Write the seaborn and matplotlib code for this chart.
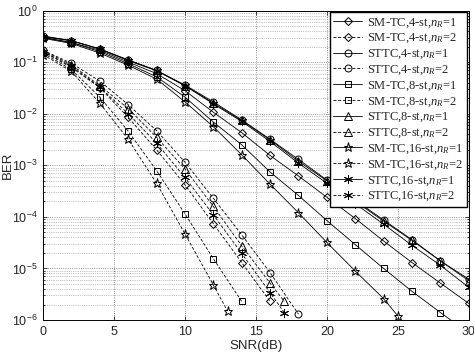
import numpy as np
import pandas as pd
import matplotlib
matplotlib.use("Agg")
import matplotlib.pyplot as plt
import seaborn as sns

# SNR points (dB) and BER, one list per curve
snr_full = [0, 2, 4, 6, 8, 10, 12, 14, 16, 18, 20, 22, 24, 26, 28, 30]

smtc4_nr1 = [3.0e-1, 2.4e-1, 1.7e-1, 1.0e-1, 6.0e-2, 2.8e-2, 1.07e-2, 4.3e-3,
             1.55e-3, 6.2e-4, 2.4e-4, 9.3e-5, 3.4e-5, 1.3e-5, 5.2e-6, 2.1e-6]
sttc4_nr1 = [3.2e-1, 2.6e-1, 1.8e-1, 1.1e-1, 6.9e-2, 3.6e-2, 1.7e-2, 7.6e-3,
             3.2e-3, 1.3e-3, 5.2e-4, 2.1e-4, 8.7e-5, 3.6e-5, 1.4e-5, 6.2e-6]
smtc8_nr1 = [3.0e-1, 2.4e-1, 1.6e-1, 9.3e-2, 5.2e-2, 2.1e-2, 6.9e-3, 2.5e-3,
             7.4e-4, 2.6e-4, 8.5e-5, 2.9e-5, 1.0e-5, 3.6e-6, 1.4e-6, 5.6e-7]
sttc8_nr1 = [3.2e-1, 2.6e-1, 1.8e-1, 1.1e-1, 6.9e-2, 3.5e-2, 1.6e-2, 7.4e-3,
             3.1e-3, 1.2e-3, 5.0e-4, 2.0e-4, 8.3e-5, 3.5e-5, 1.4e-5, 5.8e-6]
snr_smtc16_nr1 = [0, 2, 4, 6, 8, 10, 12, 14, 16, 18, 20, 22, 24, 25]
smtc16_nr1 = [2.9e-1, 2.3e-1, 1.5e-1, 8.7e-2, 4.7e-2, 1.7e-2, 5.6e-3, 1.6e-3,
              4.3e-4, 1.2e-4, 3.2e-5, 8.9e-6, 2.6e-6, 1.2e-6]
sttc16_nr1 = [3.1e-1, 2.6e-1, 1.8e-1, 1.07e-1, 6.8e-2, 3.5e-2, 1.55e-2, 7.1e-3,
              2.9e-3, 1.1e-3, 4.5e-4, 1.8e-4, 7.2e-5, 2.8e-5, 1.15e-5, 4.3e-6]

snr_smtc4_nr2 = [0, 2, 4, 6, 8, 10, 12, 14, 16]
smtc4_nr2 = [1.6e-1, 7.9e-2, 3.2e-2, 8.5e-3, 2.0e-3, 4.2e-4, 7.4e-5, 1.3e-5, 2.3e-6]
snr_sttc4_nr2 = [0, 2, 4, 6, 8, 10, 12, 14, 16, 18]
sttc4_nr2 = [1.7e-1, 9.5e-2, 4.3e-2, 1.5e-2, 4.7e-3, 1.15e-3, 2.3e-4, 4.5e-5, 8.3e-6, 1.3e-6]
snr_smtc8_nr2 = [0, 2, 4, 6, 8, 10, 12, 14]
smtc8_nr2 = [1.5e-1, 7.2e-2, 2.1e-2, 4.6e-3, 7.9e-4, 1.15e-4, 1.55e-5, 2.3e-6]
snr_sttc8_nr2 = [0, 2, 4, 6, 8, 10, 12, 14, 16, 17]
sttc8_nr2 = [1.66e-1, 8.9e-2, 3.5e-2, 1.26e-2, 3.5e-3, 8.5e-4, 1.6e-4, 2.75e-5, 5.2e-6, 2.3e-6]
snr_smtc16_nr2 = [0, 2, 4, 6, 8, 10, 12, 13]
smtc16_nr2 = [1.4e-1, 6.6e-2, 1.6e-2, 3.2e-3, 4.5e-4, 4.7e-5, 4.8e-6, 1.5e-6]
snr_sttc16_nr2 = [0, 2, 4, 6, 8, 10, 12, 14, 16, 17]
sttc16_nr2 = [1.6e-1, 8.3e-2, 3.3e-2, 1.0e-2, 2.7e-3, 5.8e-4, 1.1e-4, 1.95e-5, 3.4e-6, 1.4e-6]

labels = [r"SM-TC,4-st,$n_R$=1", r"SM-TC,4-st,$n_R$=2",
          r"STTC,4-st,$n_R$=1", r"STTC,4-st,$n_R$=2",
          r"SM-TC,8-st,$n_R$=1", r"SM-TC,8-st,$n_R$=2",
          r"STTC,8-st,$n_R$=1", r"STTC,8-st,$n_R$=2",
          r"SM-TC,16-st,$n_R$=1", r"SM-TC,16-st,$n_R$=2",
          r"STTC,16-st,$n_R$=1", r"STTC,16-st,$n_R$=2"]

curves = [
    (snr_full, smtc4_nr1), (snr_smtc4_nr2, smtc4_nr2),
    (snr_full, sttc4_nr1), (snr_sttc4_nr2, sttc4_nr2),
    (snr_full, smtc8_nr1), (snr_smtc8_nr2, smtc8_nr2),
    (snr_full, sttc8_nr1), (snr_sttc8_nr2, sttc8_nr2),
    (snr_smtc16_nr1, smtc16_nr1), (snr_smtc16_nr2, smtc16_nr2),
    (snr_full, sttc16_nr1), (snr_sttc16_nr2, sttc16_nr2),
]

markers = ["D", "D", "o", "o", "s", "s", "^", "^", "*", "*", (6, 2, 0), (6, 2, 0)]
msizes = [4.5, 4.5, 5, 5, 5, 5, 5.5, 5.5, 6.5, 6.5, 6.5, 6.5]

sns.set_style("ticks")
plt.rcParams["font.family"] = ["Liberation Sans", "DejaVu Sans"]
plt.rcParams["mathtext.fontset"] = "custom"
plt.rcParams["mathtext.rm"] = "Liberation Sans"
plt.rcParams["mathtext.it"] = "Liberation Serif:italic"

fig = plt.figure(figsize=(4.74, 3.56), dpi=100)
ax = fig.add_axes([0.0907, 0.101, 0.8983, 0.8694])

for i, ((x, y), lab) in enumerate(zip(curves, labels)):
    dashed = i % 2 == 1
    df = pd.DataFrame({"SNR": x, "BER": y})
    sns.lineplot(data=df, x="SNR", y="BER", ax=ax, color="k", lw=0.6,
                 linestyle=(0, (3.5, 2.2)) if dashed else "-",
                 marker=markers[i], markersize=msizes[i],
                 markerfacecolor="none", markeredgecolor="k",
                 markeredgewidth=0.7, label=lab, legend=False, zorder=3)

ax.set_yscale("log")
ax.set_xlim(0, 30)
ax.set_ylim(1e-6, 1)
ax.set_xticks([0, 5, 10, 15, 20, 25, 30])
ax.set_yticks([1e-6, 1e-5, 1e-4, 1e-3, 1e-2, 1e-1, 1])

ax.grid(True, which="major", axis="both", color="0.45", linestyle=":", lw=0.6)
ax.grid(True, which="minor", axis="y", color="0.55", linestyle=":", lw=0.5)
ax.tick_params(direction="in", which="both", labelsize=9, length=3,
               top=True, right=True, width=0.6, pad=4)
ax.tick_params(which="minor", length=1.5)
for sp in ax.spines.values():
    sp.set_linewidth(0.7)
    sp.set_color("k")

ax.set_xlabel("SNR(dB)", fontsize=9.5, labelpad=2)
ax.set_ylabel("BER", fontsize=9.5)
ax.yaxis.set_label_coords(-0.068, 0.5)

leg = ax.legend(loc="upper right", fancybox=False, framealpha=1,
                edgecolor="k", prop={"family": "Liberation Serif", "size": 9},
                handlelength=2.3, labelspacing=0.18, borderaxespad=0.15,
                borderpad=0.3, handletextpad=0.4)
leg.get_frame().set_linewidth(1.0)
leg.set_zorder(5)

fig.savefig("out.png", dpi=100)
